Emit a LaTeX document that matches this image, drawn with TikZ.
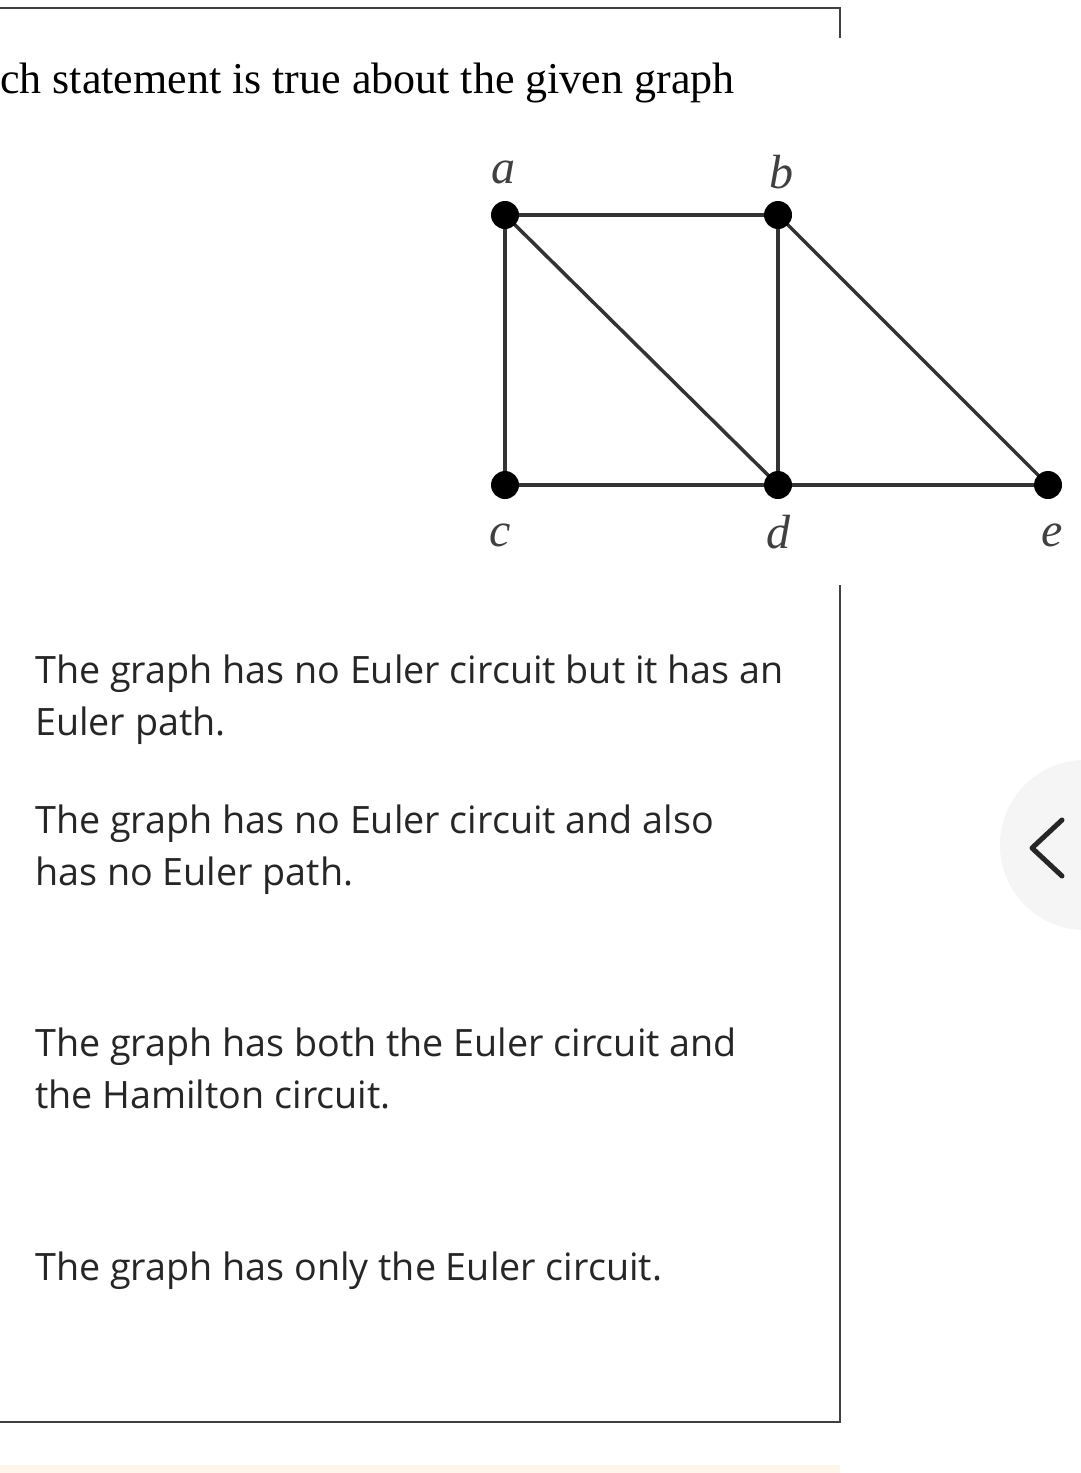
\documentclass[tikz,border=0pt]{standalone}
\usepackage{fontspec}
\setmainfont{Liberation Serif}
\newfontfamily\opensans{Open Sans}
\begin{document}
\begin{tikzpicture}[x=1pt,y=-1pt,
  vtx/.style={circle,fill=black,inner sep=0pt,minimum size=28pt},
  edge/.style={line width=3.5pt,draw=black!80},
  lab/.style={font=\fontsize{48}{48}\selectfont\itshape,text=black!75},
  opt/.style={anchor=base west,font=\opensans\fontsize{37.7}{52}\selectfont,text=black!85,inner sep=0pt},
  frame/.style={line width=1.5pt,draw=black!75}]
\useasboundingbox (0,0) rectangle (1080,1473);
\fill[white] (0,0) rectangle (1080,1473);
\draw[frame] (0,8) -- (840,8) -- (840,38);
\draw[frame] (840,585) -- (840,1422) -- (0,1422);
\fill[orange!8] (0,1465) rectangle (840,1473);
\node[anchor=base west,inner sep=0pt,font=\fontsize{44}{44}\selectfont] (title) at (0,93) {ch statement is true about the given graph};
\coordinate (pa) at (505,215);
\coordinate (pb) at (778,215);
\coordinate (pc) at (505,485);
\coordinate (pd) at (778,485);
\coordinate (pe) at (1048,485);
\draw[edge] (pa) -- (pb);
\draw[edge] (pa) -- (pc);
\draw[edge] (pa) -- (pd);
\draw[edge] (pb) -- (pd);
\draw[edge] (pb) -- (pe);
\draw[edge] (pc) -- (pd);
\draw[edge] (pd) -- (pe);
\node[vtx] (a) at (pa) {};
\node[vtx] (b) at (pb) {};
\node[vtx] (c) at (pc) {};
\node[vtx] (d) at (pd) {};
\node[vtx] (e) at (pe) {};
\node[lab] (la) at (503,172) {a};
\node[lab] (lb) at (781,172) {b};
\node[lab] (lc) at (500,535) {c};
\node[lab] (ld) at (778,532) {d};
\node[lab] (le) at (1052,535) {e};
\node[opt] (o1) at (35,683) {The graph has no Euler circuit but it has an};
\node[opt] (o1b) at (35,735) {Euler path.};
\node[opt] (o2) at (35,833) {The graph has no Euler circuit and also};
\node[opt] (o2b) at (35,885) {has no Euler path.};
\node[opt] (o3) at (35,1056) {The graph has both the Euler circuit and};
\node[opt] (o3b) at (35,1108) {the Hamilton circuit.};
\node[opt] (o4) at (35,1280) {The graph has only the Euler circuit.};
\fill[black!4] (1085,845) circle (85);
\draw[line width=5pt,black!85,line cap=round,line join=round] (1062,820) -- (1032,848) -- (1062,876);
\end{tikzpicture}
\end{document}
